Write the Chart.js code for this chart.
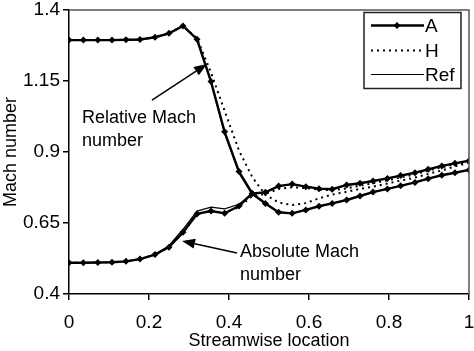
<!DOCTYPE html>
<html>
<head>
<meta charset="utf-8">
<script src="https://cdn.jsdelivr.net/npm/chart.js@4/dist/chart.umd.min.js"></script>
<style>
html,body{margin:0;padding:0;background:#fff;}
#wrap{width:474px;height:351px;position:relative;}
</style>
</head>
<body>
<div id="wrap"><canvas id="c" width="474" height="351"></canvas></div>
<script>
// Streamwise locations of the data points
const xs = [0,0.036,0.072,0.1075,0.1425,0.1775,0.215,0.25,0.285,0.32,0.355,0.389,0.425,0.458,0.491,0.524,0.558,0.592,0.625,0.658,0.694,0.7275,0.76,0.796,0.829,0.865,0.898,0.932,0.965,1.0];
// Series A (relative / absolute Mach number)
const relA = [1.294,1.294,1.294,1.294,1.295,1.296,1.304,1.318,1.344,1.297,1.148,0.971,0.831,0.754,0.719,0.688,0.684,0.696,0.709,0.719,0.731,0.745,0.759,0.770,0.781,0.793,0.806,0.818,0.827,0.837];
const absA = [0.510,0.510,0.511,0.512,0.515,0.523,0.539,0.565,0.617,0.682,0.692,0.684,0.710,0.754,0.758,0.780,0.787,0.778,0.771,0.769,0.784,0.790,0.798,0.807,0.817,0.827,0.839,0.851,0.860,0.869];
// Series H
const relH = [1.294,1.294,1.294,1.294,1.295,1.296,1.304,1.318,1.344,1.300,1.180,1.045,0.905,0.812,0.749,0.722,0.713,0.720,0.737,0.750,0.760,0.770,0.778,0.789,0.799,0.810,0.823,0.835,0.849,0.863];
const absH = [0.510,0.510,0.511,0.512,0.515,0.523,0.539,0.565,0.617,0.682,0.692,0.686,0.706,0.745,0.752,0.770,0.776,0.773,0.768,0.765,0.772,0.782,0.790,0.800,0.810,0.822,0.834,0.846,0.857,0.866];
// Series Ref
const relRef = [1.294,1.294,1.294,1.294,1.295,1.296,1.304,1.318,1.344,1.297,1.148,0.965,0.825,0.750,0.719,0.688,0.684,0.696,0.709,0.719,0.731,0.745,0.759,0.770,0.781,0.793,0.806,0.818,0.827,0.837];
const absRef = [0.510,0.510,0.511,0.512,0.515,0.523,0.540,0.570,0.628,0.692,0.706,0.700,0.716,0.754,0.758,0.780,0.787,0.778,0.771,0.769,0.784,0.790,0.798,0.807,0.817,0.827,0.839,0.851,0.860,0.869];
// Axis ticks and labels
const yTicks = [0.4,0.65,0.9,1.15,1.4];
const xTicks = [0,0.2,0.4,0.6,0.8,1];
const legendLabels = ['A','H','Ref'];
const annoRel = ['Relative Mach','number'];
const annoAbs = ['Absolute Mach','number'];

const FONT = '"Liberation Sans", Arial, sans-serif';
const pts = ys => xs.map((x,i)=>({x:x,y:ys[i]}));

const styleA = {borderColor:'#000',backgroundColor:'#000',borderWidth:2.4,pointStyle:'rectRot',pointRadius:3.5,pointBorderWidth:0,pointBackgroundColor:'#000'};
const styleH = {borderColor:'#000',borderWidth:2,borderDash:[2,4],pointRadius:0};
const styleR = {borderColor:'#000',borderWidth:1.2,pointRadius:0};

const datasets = [
  Object.assign({label:'Ref',data:pts(relRef)},styleR),
  Object.assign({label:'Ref',data:pts(absRef)},styleR),
  Object.assign({label:'H',data:pts(relH)},styleH),
  Object.assign({label:'H',data:pts(absH)},styleH),
  Object.assign({label:'A',data:pts(relA)},styleA),
  Object.assign({label:'A',data:pts(absA)},styleA)
];

function arrow(ctx, x0,y0,x1,y1){
  const ang = Math.atan2(y1-y0,x1-x0);
  const L = 13, W = 5;
  const bx = x1 - L*Math.cos(ang), by = y1 - L*Math.sin(ang);
  ctx.beginPath(); ctx.moveTo(x0,y0); ctx.lineTo(bx,by);
  ctx.lineWidth=1.5; ctx.strokeStyle='#000'; ctx.stroke();
  ctx.beginPath();
  ctx.moveTo(x1,y1);
  ctx.lineTo(bx - W*Math.sin(ang), by + W*Math.cos(ang));
  ctx.lineTo(bx + W*Math.sin(ang), by - W*Math.cos(ang));
  ctx.closePath(); ctx.fillStyle='#000'; ctx.fill();
}

const extras = {
  id:'extras',
  afterDatasetsDraw(chart){
    const ctx = chart.ctx, a = chart.chartArea, sx = chart.scales.x, sy = chart.scales.y;
    ctx.save();
    // frame top/right
    ctx.strokeStyle='#555'; ctx.lineWidth=1.5;
    ctx.beginPath(); ctx.moveTo(a.left,a.top); ctx.lineTo(a.right,a.top); ctx.lineTo(a.right,a.bottom); ctx.stroke();
    // annotations
    ctx.fillStyle='#000'; ctx.font='18px '+FONT; ctx.textAlign='left'; ctx.textBaseline='alphabetic';
    ctx.fillText(annoRel[0], sx.getPixelForValue(0.0325), sy.getPixelForValue(1.002));
    ctx.fillText(annoRel[1], sx.getPixelForValue(0.0325), sy.getPixelForValue(0.921));
    ctx.fillText(annoAbs[0], sx.getPixelForValue(0.4275), sy.getPixelForValue(0.530));
    ctx.fillText(annoAbs[1], sx.getPixelForValue(0.4275), sy.getPixelForValue(0.449));
    arrow(ctx, sx.getPixelForValue(0.2075), sy.getPixelForValue(1.083), sx.getPixelForValue(0.345), sy.getPixelForValue(1.21));
    arrow(ctx, sx.getPixelForValue(0.42), sy.getPixelForValue(0.544), sx.getPixelForValue(0.2825), sy.getPixelForValue(0.587));
    // legend
    const lx=364, ly=12.5, lw=97, lh=76;
    ctx.fillStyle='#fff'; ctx.fillRect(lx,ly,lw,lh);
    ctx.strokeStyle='#222'; ctx.lineWidth=1.5; ctx.strokeRect(lx,ly,lw,lh);
    const rows=[25.5,50.5,74.5];
    const styles=[styleA,styleH,styleR];
    legendLabels.forEach((lab,i)=>{
      const s=styles[i], y=rows[i];
      ctx.beginPath(); ctx.setLineDash(s.borderDash||[]);
      ctx.lineWidth=s.borderWidth; ctx.strokeStyle='#000';
      ctx.moveTo(371,y); ctx.lineTo(424,y); ctx.stroke(); ctx.setLineDash([]);
      if(s.pointRadius>0){
        ctx.beginPath(); const r=3.5, cx=397;
        ctx.moveTo(cx,y-r); ctx.lineTo(cx+r,y); ctx.lineTo(cx,y+r); ctx.lineTo(cx-r,y); ctx.closePath();
        ctx.fillStyle='#000'; ctx.fill();
      }
      ctx.fillStyle='#000'; ctx.font='19px '+FONT; ctx.textBaseline='middle';
      ctx.fillText(lab, 425, y+1);
    });
    ctx.restore();
  }
};

new Chart(document.getElementById('c'),{
  type:'scatter',
  data:{datasets:datasets},
  options:{
    responsive:false, animation:false,
    datasets:{scatter:{showLine:true,tension:0}},
    layout:{padding:{top:10,right:5,left:0,bottom:0}},
    plugins:{legend:{display:false},tooltip:{enabled:false}},
    scales:{
      x:{type:'linear',min:0,max:1,
        afterBuildTicks(s){s.ticks=xTicks.map(v=>({value:v}));},
        afterFit(s){s.height=57; s.paddingLeft=0; s.paddingRight=0;},
        ticks:{color:'#000',font:{family:FONT,size:19},padding:11,maxRotation:0,callback:v=>String(v)},
        grid:{display:true,drawOnChartArea:false,drawTicks:true,tickLength:6,color:'#000',lineWidth:1.5},
        border:{display:true,color:'#000',width:1.5},
        title:{display:true,text:'Streamwise location',color:'#000',font:{family:FONT,size:18},padding:{top:0,bottom:-1}}
      },
      y:{type:'linear',min:0.4,max:1.4,
        afterBuildTicks(s){s.ticks=yTicks.map(v=>({value:v}));},
        afterFit(s){s.width=69; s.paddingTop=0; s.paddingBottom=0;},
        ticks:{color:'#000',font:{family:FONT,size:19},padding:3,callback:v=>String(v)},
        grid:{display:true,drawOnChartArea:false,drawTicks:true,tickLength:6,color:'#000',lineWidth:1.5},
        border:{display:true,color:'#000',width:1.5},
        title:{display:true,text:'Mach number',color:'#000',font:{family:FONT,size:18},padding:{top:0,bottom:0}}
      }
    }
  },
  plugins:[extras]
});
</script>
</body>
</html>
